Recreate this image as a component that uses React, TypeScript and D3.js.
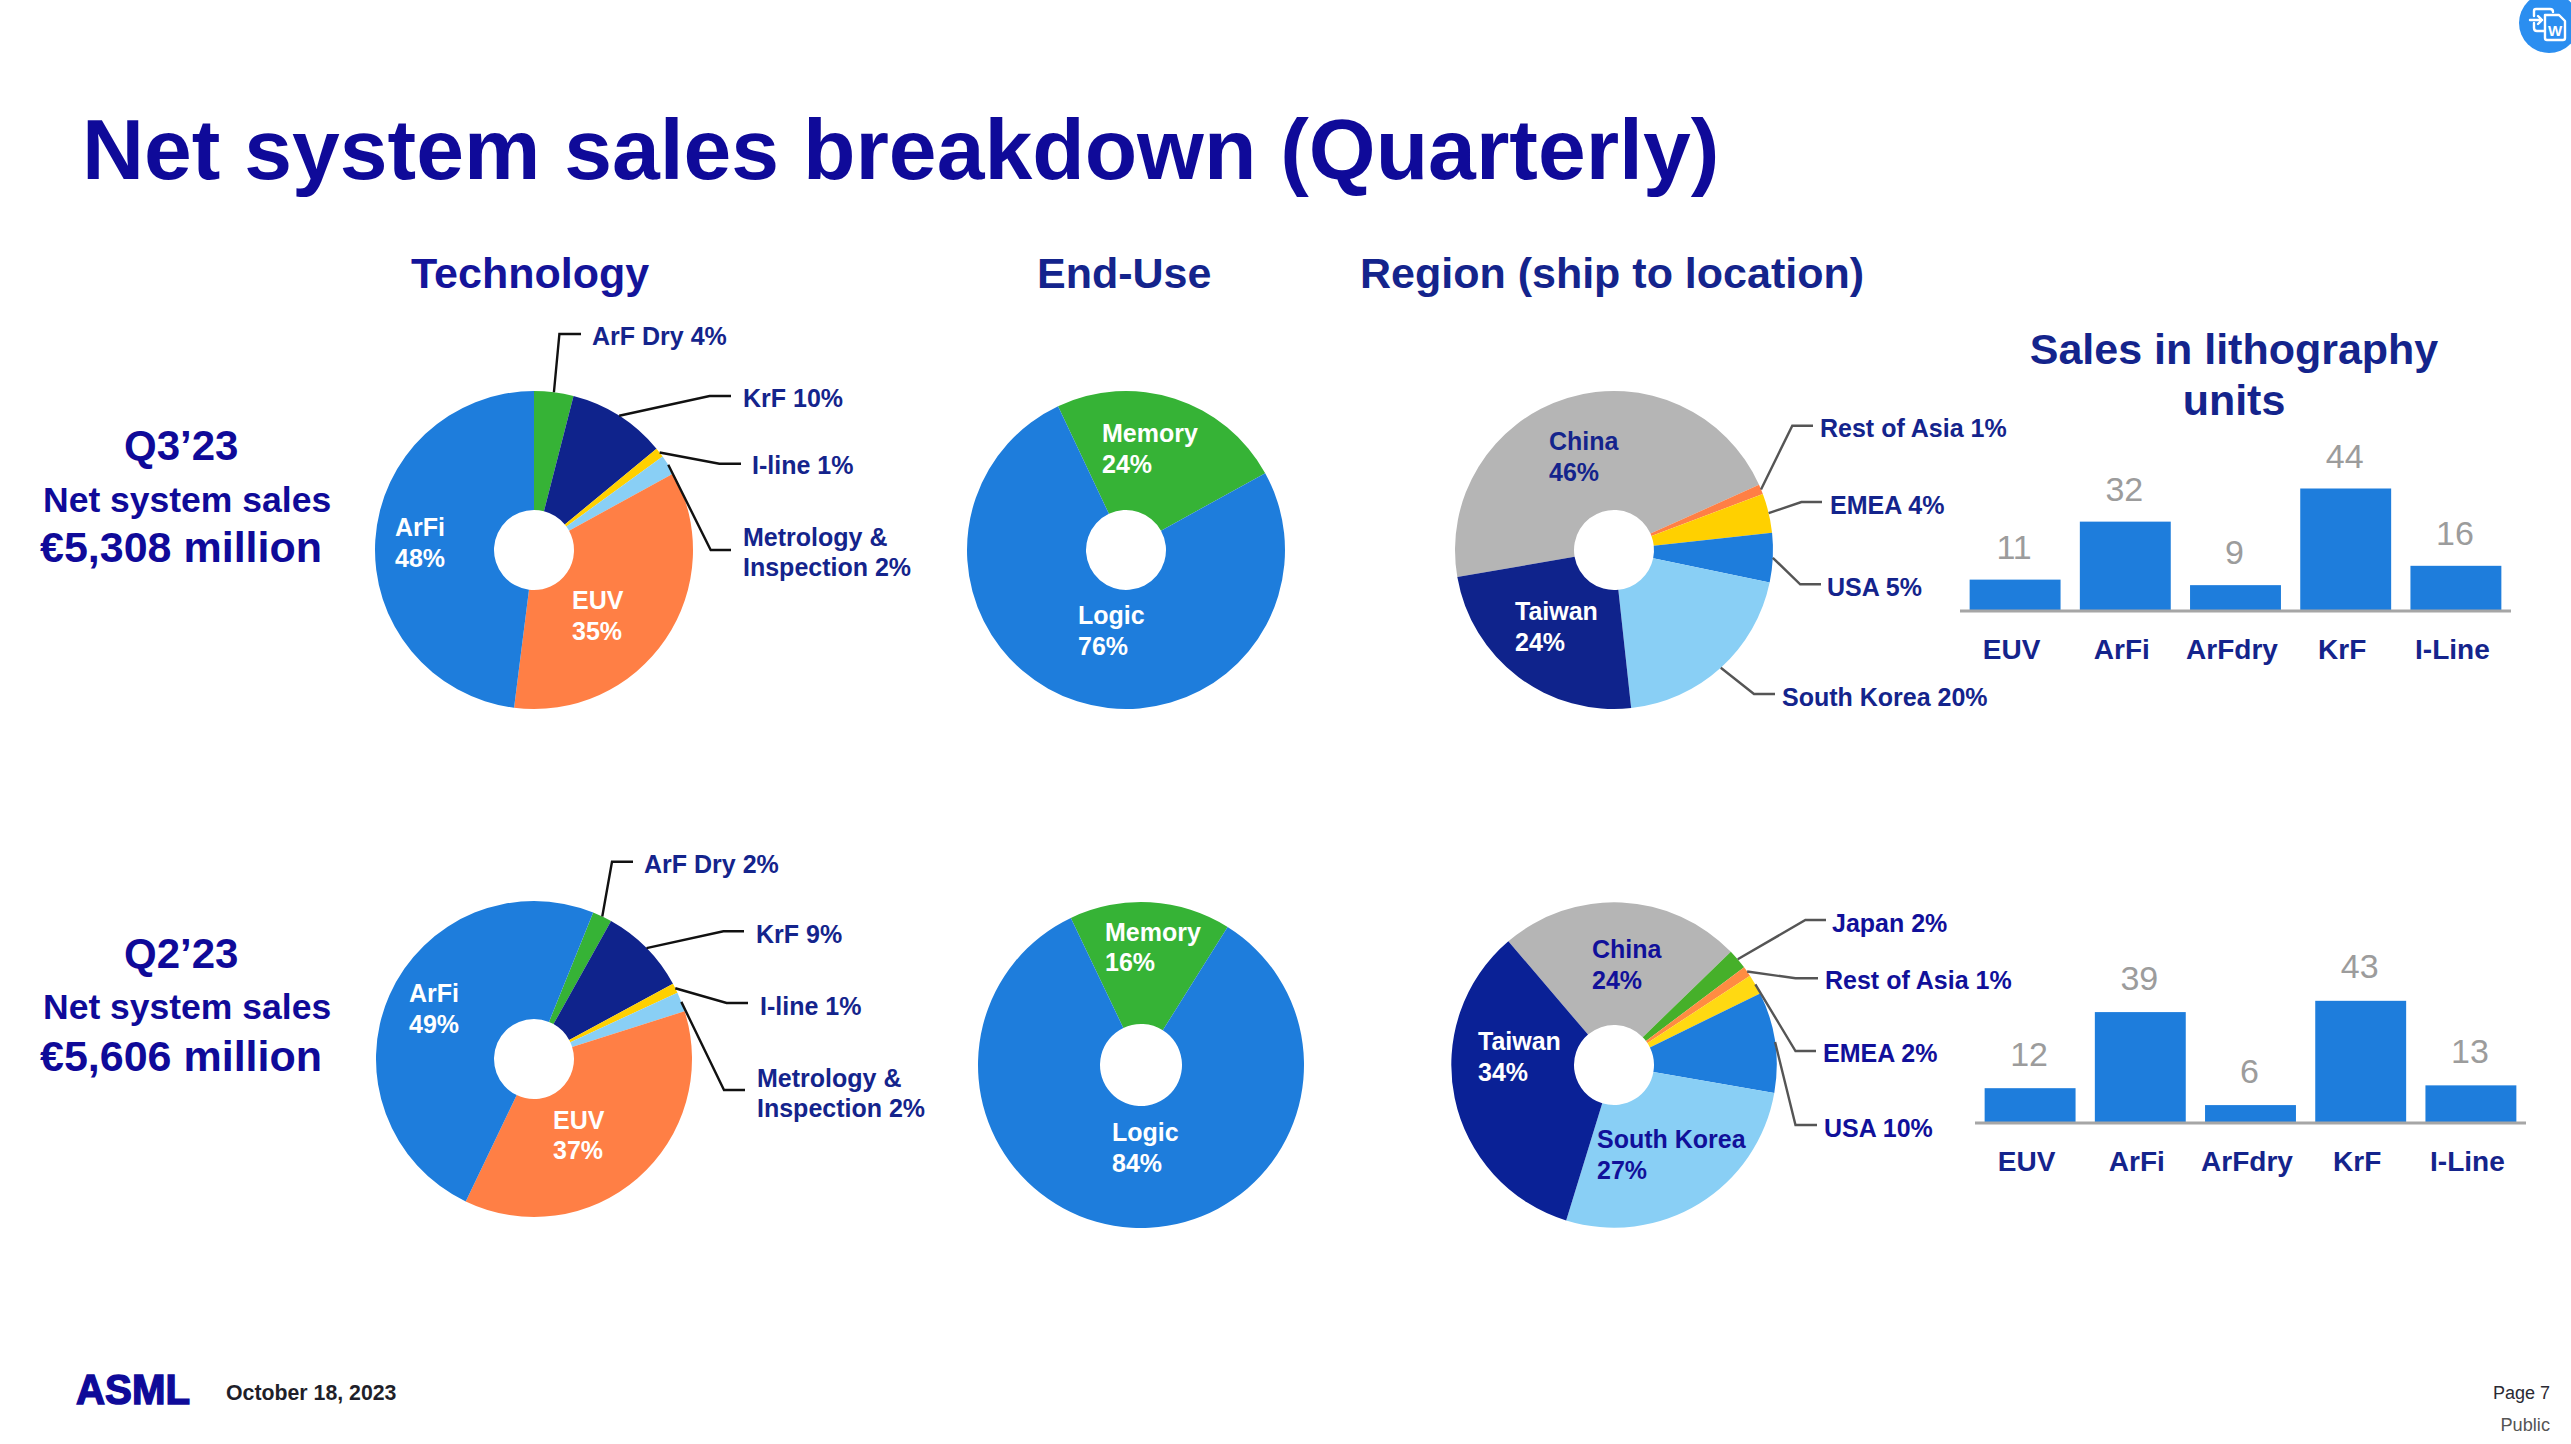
import { arc, line, pie, scaleBand, scaleLinear } from "d3";

const techQ3Names = ["ArF Dry", "KrF", "I-line", "Metrology &\nInspection", "EUV", "ArFi"];
const techQ3Values = [4, 10, 1, 2, 35, 48];
const techQ2Names = ["ArF Dry", "KrF", "I-line", "Metrology &\nInspection", "EUV", "ArFi"];
const techQ2Values = [2, 9, 1, 2, 37, 49];
const useQ3Names = ["Memory", "Logic"];
const useQ3Values = [24, 76];
const useQ2Names = ["Memory", "Logic"];
const useQ2Values = [16, 84];
const regionQ3Names = ["China", "Rest of Asia", "EMEA", "USA", "South Korea", "Taiwan"];
const regionQ3Values = [46, 1, 4, 5, 20, 24];
const regionQ2Names = ["China", "Japan", "Rest of Asia", "EMEA", "USA", "South Korea", "Taiwan"];
const regionQ2Values = [24, 2, 1, 2, 10, 27, 34];
const unitNames = ["EUV", "ArFi", "ArFdry", "KrF", "I-Line"];
const unitsQ3 = [11, 32, 9, 44, 16];
const unitsQ2 = [12, 39, 6, 43, 13];

const BLUE = "#1e7ddc";
const NAVY = "#0f238c";
const ORANGE = "#ff7f45";
const GREEN = "#36b336";
const SKY = "#89cff5";
const YELLOW = "#ffd000";
const GRAY = "#b5b5b5";
const INK = "#0f0a99";
const LABEL = "#14248c";
const FONT = "'Liberation Sans', Arial, sans-serif";

const techColors = [GREEN, NAVY, YELLOW, SKY, ORANGE, BLUE];
const useColors = [GREEN, BLUE];
const regionQ3Colors = [GRAY, ORANGE, YELLOW, BLUE, SKY, NAVY];
const regionQ2Colors = [GRAY, "#46b02a", "#ff8c42", "#ffd912", BLUE, SKY, "#0a2196"];

type Inside = { i: number; x: number; y: number; fill: string };
type Outside = { i: number; x: number; y: number; ex: number; ey: number; end: number };

interface DonutProps {
  names: string[];
  values: number[];
  colors: string[];
  cx: number;
  cy: number;
  r: number;
  hole: number;
  startDeg: number;
  inside: Inside[];
  outside?: Outside[];
  leader?: string;
  textFill?: string;
}

function Donut({ names, values, colors, cx, cy, r, hole, startDeg, inside, outside = [], leader = "#111", textFill = LABEL }: DonutProps) {
  const start = (startDeg * Math.PI) / 180;
  const slices = pie<number>().sort(null).startAngle(start).endAngle(start + Math.PI * 2)(values);
  const path = arc<any>().innerRadius(hole).outerRadius(r);
  const leaderPath = line();

  return (
    <g fontFamily={FONT} fontWeight="bold" fontSize={25}>
      <g transform={`translate(${cx}, ${cy})`}>
        {slices.map((s, i) => (
          <path key={names[i]} d={path(s) ?? ""} fill={colors[i]} />
        ))}
      </g>
      {inside.map((lab) => (
        <text key={lab.i} x={lab.x} y={lab.y} fill={lab.fill}>
          <tspan x={lab.x}>{names[lab.i]}</tspan>
          <tspan x={lab.x} dy={30.5}>{values[lab.i]}%</tspan>
        </text>
      ))}
      {outside.map((lab) => {
        const s = slices[lab.i];
        const mid = (s.startAngle + s.endAngle) / 2;
        const from: [number, number] = [cx + r * Math.sin(mid), cy - r * Math.cos(mid)];
        const lines = `${names[lab.i]} ${values[lab.i]}%`.split("\n");
        return (
          <g key={lab.i}>
            <path d={leaderPath([from, [lab.ex, lab.ey], [lab.end, lab.ey]]) ?? ""} fill="none" stroke={leader} strokeWidth={2.4} />
            <text y={lab.y} fill={textFill}>
              {lines.map((t, k) => (
                <tspan key={t} x={lab.x} dy={k === 0 ? 0 : 30}>{t}</tspan>
              ))}
            </text>
          </g>
        );
      })}
    </g>
  );
}

interface UnitBarsProps {
  values: number[];
  left: number;
  right: number;
  baseline: number;
  labelY: number;
  maxHeight: number;
  gap: number;
}

function UnitBars({ values, left, right, baseline, labelY, maxHeight, gap }: UnitBarsProps) {
  const x = scaleBand<string>().domain(unitNames).range([left, right]).paddingInner(0.175).paddingOuter(0.0875);
  const y = scaleLinear().domain([0, 44]).range([baseline, baseline - maxHeight]);
  return (
    <g fontFamily={FONT}>
      {unitNames.map((name, i) => (
        <g key={name}>
          <rect x={x(name)} y={y(values[i])} width={x.bandwidth()} height={baseline - y(values[i])} fill={BLUE} />
          <text x={(x(name) ?? 0) + x.bandwidth() / 2 - 1} y={y(values[i]) - gap} textAnchor="middle" fontSize={34} fill="#9c9c9c">
            {values[i]}
          </text>
          <text x={(x(name) ?? 0) + x.bandwidth() / 2 - 3.5} y={labelY} textAnchor="middle" fontSize={28} fontWeight="bold" fill={LABEL}>
            {name}
          </text>
        </g>
      ))}
      <line x1={left} x2={right} y1={baseline + 1} y2={baseline + 1} stroke="#a6a6a6" strokeWidth={3} />
    </g>
  );
}

function Heading({ x, y, size, fill = INK, children }: { x: number; y: number; size: number; fill?: string; children: string }) {
  return (
    <text x={x} y={y} fontFamily={FONT} fontWeight="bold" fontSize={size} fill={fill}>
      {children}
    </text>
  );
}

export default function App() {
  return (
    <svg width={2571} height={1444} viewBox="0 0 2571 1444" style={{ position: "absolute", left: 0, top: 0, display: "block", background: "#fff" }}>
      <Heading x={82} y={179} size={85.9}>Net system sales breakdown (Quarterly)</Heading>
      <Heading x={411} y={288} size={43} fill="#14149a">Technology</Heading>
      <Heading x={1037} y={288} size={43} fill={LABEL}>End-Use</Heading>
      <Heading x={1360} y={288} size={43} fill={LABEL}>Region (ship to location)</Heading>

      <Heading x={124} y={460} size={42}>Q3’23</Heading>
      <Heading x={43} y={512} size={35.5}>Net system sales</Heading>
      <Heading x={40} y={562} size={43}>€5,308 million</Heading>
      <Heading x={124} y={968} size={42}>Q2’23</Heading>
      <Heading x={43} y={1019} size={35.5}>Net system sales</Heading>
      <Heading x={40} y={1071} size={43}>€5,606 million</Heading>

      <Donut
        names={techQ3Names} values={techQ3Values} colors={techColors}
        cx={534} cy={550} r={159} hole={40} startDeg={0}
        inside={[
          { i: 5, x: 395, y: 536, fill: "#fff" },
          { i: 4, x: 572, y: 609, fill: "#fff" },
        ]}
        outside={[
          { i: 0, x: 592, y: 345, ex: 559.4, ey: 334, end: 581 },
          { i: 1, x: 743, y: 407, ex: 709.6, ey: 396, end: 731 },
          { i: 2, x: 752, y: 474, ex: 719.4, ey: 463.7, end: 741 },
          { i: 3, x: 743, y: 546, ex: 710.7, ey: 550, end: 731 },
        ]}
      />
      <Donut
        names={useQ3Names} values={useQ3Values} colors={useColors}
        cx={1126} cy={550} r={159} hole={40} startDeg={-25.3}
        inside={[
          { i: 0, x: 1102, y: 442, fill: "#fff" },
          { i: 1, x: 1078, y: 624, fill: "#fff" },
        ]}
      />
      <Donut
        names={regionQ3Names} values={regionQ3Values} colors={regionQ3Colors}
        cx={1614} cy={550} r={159} hole={40} startDeg={-99.8} leader="#555"
        inside={[
          { i: 0, x: 1549, y: 450, fill: LABEL },
          { i: 5, x: 1515, y: 620, fill: "#fff" },
        ]}
        outside={[
          { i: 1, x: 1820, y: 437, ex: 1792.3, ey: 425.7, end: 1813 },
          { i: 2, x: 1830, y: 514, ex: 1801.4, ey: 502, end: 1822 },
          { i: 3, x: 1827, y: 596, ex: 1800.2, ey: 584.3, end: 1821 },
          { i: 4, x: 1782, y: 706, ex: 1754, ey: 694, end: 1775 },
        ]}
      />
      <UnitBars values={unitsQ3} left={1960} right={2511} baseline={610} labelY={659} maxHeight={121.5} gap={21} />
      <text fontFamily={FONT} fontWeight="bold" fontSize={43} fill={LABEL} textAnchor="middle">
        <tspan x={2234} y={363.5}>Sales in lithography</tspan>
        <tspan x={2234} y={414.5}>units</tspan>
      </text>

      <Donut
        names={techQ2Names} values={techQ2Values} colors={techColors}
        cx={534} cy={1059} r={158} hole={40} startDeg={22}
        inside={[
          { i: 5, x: 409, y: 1002, fill: "#fff" },
          { i: 4, x: 553, y: 1128.5, fill: "#fff" },
        ]}
        outside={[
          { i: 0, x: 644, y: 873, ex: 612, ey: 861.7, end: 633 },
          { i: 1, x: 756, y: 943, ex: 723.4, ey: 931.3, end: 744 },
          { i: 2, x: 760, y: 1015, ex: 726.6, ey: 1003, end: 748 },
          { i: 3, x: 757, y: 1087, ex: 724, ey: 1090, end: 745 },
        ]}
      />
      <Donut
        names={useQ2Names} values={useQ2Values} colors={useColors}
        cx={1141} cy={1065} r={163} hole={41} startDeg={-25.5}
        inside={[
          { i: 0, x: 1105, y: 940.5, fill: "#fff" },
          { i: 1, x: 1112, y: 1141, fill: "#fff" },
        ]}
      />
      <Donut
        names={regionQ2Names} values={regionQ2Values} colors={regionQ2Colors}
        cx={1614} cy={1065} r={162.7} hole={40} startDeg={-40.5} leader="#555" textFill="#11109a"
        inside={[
          { i: 0, x: 1592, y: 958, fill: "#11109a" },
          { i: 6, x: 1478, y: 1050, fill: "#fff" },
          { i: 5, x: 1597, y: 1148, fill: "#11109a" },
        ]}
        outside={[
          { i: 1, x: 1832, y: 932, ex: 1805.4, ey: 920, end: 1826 },
          { i: 2, x: 1825, y: 989, ex: 1795.5, ey: 978.3, end: 1818 },
          { i: 3, x: 1823, y: 1062, ex: 1795.5, ey: 1051, end: 1816 },
          { i: 4, x: 1824, y: 1137, ex: 1795.5, ey: 1125, end: 1817 },
        ]}
      />
      <UnitBars values={unitsQ2} left={1975} right={2526} baseline={1122} labelY={1171} maxHeight={124} gap={22.5} />

      {/* footer */}
      <text x={76} y={1404} fontFamily={FONT} fontWeight="bold" fontSize={43} fill={INK} stroke={INK} strokeWidth={1.5} textLength={114} lengthAdjust="spacingAndGlyphs">ASML</text>
      <text x={226} y={1400} fontFamily={FONT} fontWeight="bold" fontSize={21.3} fill="#1f1f2a">October 18, 2023</text>
      <text x={2550} y={1399} textAnchor="end" fontFamily={FONT} fontSize={18} fill="#2a2a33">Page 7</text>
      <text x={2550} y={1431} textAnchor="end" fontFamily={FONT} fontSize={18.2} fill="#555">Public</text>

      {/* converter badge, top right */}
      <circle cx={2549} cy={23} r={30} fill="#2b8ef0" />
      <g fill="none" stroke="#fff" strokeWidth={2.4} strokeLinejoin="round" strokeLinecap="round">
        <path d="M2534 16 v-5 q0 -2 2 -2 h14 q3 0 3 3" />
        <path d="M2534 23 v5 q0 3 3 3 h7" />
        <path d="M2530 20 h12 M2538 16 l4 4 l-4 4" />
        <path d="M2545 15 h14 l6 6 v17 q0 2 -2 2 h-16 q-2 0 -2 -2 z" />
      </g>
      <text x={2555} y={36} textAnchor="middle" fontFamily={FONT} fontWeight="bold" fontSize={15} fill="#fff">W</text>
    </svg>
  );
}
